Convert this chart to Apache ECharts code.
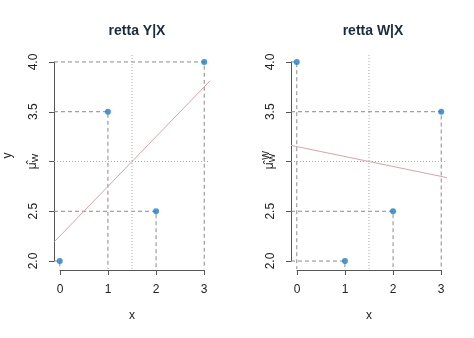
<!DOCTYPE html>
<html><head><meta charset="utf-8">
<script src="https://cdn.jsdelivr.net/npm/echarts@6/dist/echarts.min.js"></script>
<style>html,body{margin:0;padding:0;background:#fff}#c{width:474px;height:338px}</style>
</head><body><div id="c"></div>
<script>
// ---- data ----
const xVals = [0, 1, 2, 3];
const yVals = [2, 3.5, 2.5, 4];
const wVals = [4, 2, 2.5, 3.5];
const titles = ['retta Y|X', 'retta W|X'];
const yNames = ['y', 'w'];
const xName = 'x';
const xTicks = [0, 1, 2, 3];
const yTicks = [2, 2.5, 3, 3.5, 4];

// ---- helpers ----
const XMIN = -0.12, XMAX = 3.12, YMIN = 1.92, YMAX = 4.08;
const FONT = '"Liberation Sans", Arial, sans-serif';
const mean = a => a.reduce((s, v) => s + v, 0) / a.length;
function fit(xs, ys) {
  const mx = mean(xs), my = mean(ys);
  let sxy = 0, sxx = 0;
  xs.forEach((x, i) => { sxy += (x - mx) * (ys[i] - my); sxx += (x - mx) * (x - mx); });
  const b = sxy / sxx; return { a: my - b * mx, b: b };
}

const panels = [
  { ys: yVals, plotLeft: 54, xLeft: 60, titleX: 132, nameGap: 40 },
  { ys: wVals, plotLeft: 291, xLeft: 297, titleX: 368, nameGap: 19 }
];
const PW = 156, XW = 144, TOP = 54, H = 215, YTOP = 62, YH = 199;

const grid = [], xAxis = [], yAxis = [], series = [], title = [];
panels.forEach((p, k) => {
  const g = k * 3;
  grid.push({ left: p.plotLeft, top: TOP, width: PW, height: H });
  grid.push({ left: p.xLeft, top: TOP, width: XW, height: H + 1 });
  grid.push({ left: p.plotLeft, top: YTOP, width: PW, height: YH });

  xAxis.push({ gridIndex: g, type: 'value', min: XMIN, max: XMAX, show: false });
  yAxis.push({ gridIndex: g, type: 'value', min: YMIN, max: YMAX, show: false });

  xAxis.push({ gridIndex: g + 1, type: 'value', min: xTicks[0], max: xTicks[xTicks.length - 1], interval: 1,
    name: xName, nameLocation: 'middle', nameGap: 40, nameMoveOverlap: false,
    nameTextStyle: { fontFamily: FONT, fontSize: 12, color: '#222' },
    axisLine: { show: true, onZero: false, lineStyle: { color: '#555', width: 1 } },
    axisTick: { show: true, length: 5, lineStyle: { color: '#555' } },
    axisLabel: { margin: 14, fontFamily: FONT, fontSize: 12, color: '#222' },
    splitLine: { show: false } });
  yAxis.push({ gridIndex: g + 1, type: 'value', min: YMIN, max: YMAX, show: false });

  xAxis.push({ gridIndex: g + 2, type: 'value', min: XMIN, max: XMAX, show: false });
  yAxis.push({ gridIndex: g + 2, type: 'value', min: yTicks[0], max: yTicks[yTicks.length - 1], interval: 0.5,
    name: yNames[k], nameLocation: 'middle', nameGap: p.nameGap, nameRotate: 90, nameMoveOverlap: false,
    nameTextStyle: { fontFamily: FONT, fontSize: 12, color: '#222', padding: [0, 0, 0, 12] },
    axisLine: { show: true, onZero: false, lineStyle: { color: '#555', width: 1 } },
    axisTick: { show: true, length: 5, lineStyle: { color: '#555' } },
    axisLabel: { rotate: 90, margin: 14, fontFamily: FONT, fontSize: 12, color: '#222',
      formatter: v => Math.abs(v - 3) < 1e-9 ? '{m|\u03BC\u0302}{s|W}' : v.toFixed(1),
      rich: { m: { fontFamily: FONT, fontSize: 12, color: '#222' },
              s: { fontFamily: FONT, fontSize: 9, color: '#222', verticalAlign: 'bottom', padding: [5, 0, 0, 0] } } },
    splitLine: { show: false } });

  title.push({ text: titles[k], left: p.titleX, top: 19, textAlign: 'center',
    textStyle: { fontFamily: FONT, fontSize: 14, fontWeight: 'bold', color: '#1a2b3c' } });

  const ys = p.ys;
  const mx = mean(xVals), my = mean(ys);
  const f = fit(xVals, ys);

  xVals.forEach((x, i) => {
    series.push({ type: 'line', xAxisIndex: g, yAxisIndex: g, silent: true, symbol: 'none',
      data: [[XMIN, ys[i]], [x, ys[i]], [x, YMIN]],
      lineStyle: { color: '#8a8a8a', width: 1, type: [4, 3] }, z: 1 });
  });
  series.push({ type: 'line', xAxisIndex: g, yAxisIndex: g, silent: true, symbol: 'none',
    data: [[mx, YMIN], [mx, YMAX]], lineStyle: { color: '#a8a8a8', width: 1, type: [1, 2] }, z: 1 });
  series.push({ type: 'line', xAxisIndex: g, yAxisIndex: g, silent: true, symbol: 'none',
    data: [[XMIN, my], [XMAX, my]], lineStyle: { color: '#a8a8a8', width: 1, type: [1, 2] }, z: 1 });
  series.push({ type: 'line', xAxisIndex: g, yAxisIndex: g, silent: true, symbol: 'none',
    data: [[XMIN, f.a + f.b * XMIN], [XMAX, f.a + f.b * XMAX]],
    lineStyle: { color: '#d9a3a9', width: 1 }, z: 2 });
  series.push({ type: 'scatter', xAxisIndex: g, yAxisIndex: g, symbolSize: 6,
    data: xVals.map((x, i) => [x, ys[i]]), itemStyle: { color: '#1f7ccc' }, z: 3 });
});

const chart = echarts.init(document.getElementById('c'), null, { renderer: 'canvas' });
chart.setOption({ animation: false, backgroundColor: '#fff', title, grid, xAxis, yAxis, series });
</script></body></html>
